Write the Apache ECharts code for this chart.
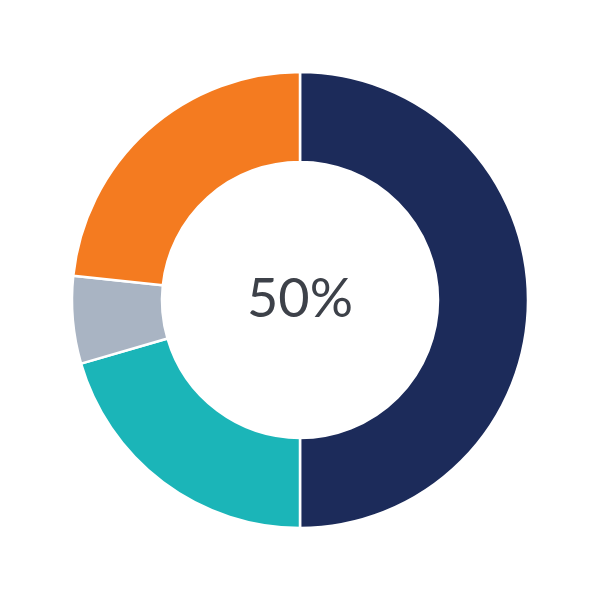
<!DOCTYPE html>
<html>
<head>
<meta charset="utf-8">
<script src="https://cdn.jsdelivr.net/npm/echarts@6/dist/echarts.min.js"></script>
<style>
  html, body { margin: 0; padding: 0; background: #fff; }
  #main { width: 600px; height: 600px; }
</style>
</head>
<body>
<div id="main"></div>
<script>
// slice data
var names = ["A", "B", "C", "D"];
var values = [50, 20.5, 6.2, 23.3];
var colors = ["#1c2b5a", "#1bb5b8", "#a9b4c3", "#f47b20"];
var centerLabel = "50%";

var myChart = echarts.init(document.getElementById("main"));

var option = {
  animation: false,
  title: {
    text: centerLabel,
    left: "center",
    top: "middle",
    textStyle: {
      fontFamily: "Lato",
      fontWeight: "normal",
      fontSize: 54,
      color: "#3d4149",
    },
  },
  series: [
    {
      type: "pie",
      center: ["50%", "50%"],
      radius: [138, 228],
      startAngle: 90,
      clockwise: true,
      label: { show: false },
      labelLine: { show: false },
      itemStyle: {
        borderColor: "#fff",
        borderWidth: 2.5,
      },
      data: names.map(function (n, i) {
        return { name: n, value: values[i], itemStyle: { color: colors[i] } };
      }),
    },
  ],
};

myChart.setOption(option);
</script>
</body>
</html>
